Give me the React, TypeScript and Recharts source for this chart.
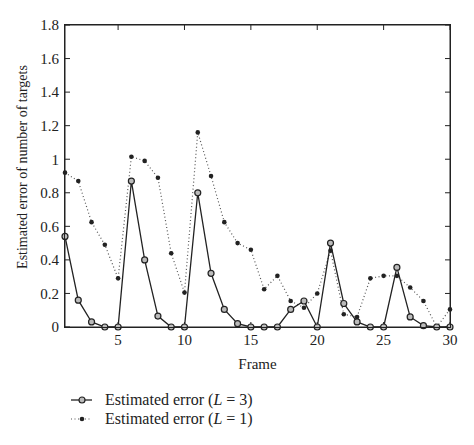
import React from 'react';
import { LineChart, Line, XAxis, YAxis, Legend } from 'recharts';

const frames = [1, 2, 3, 4, 5, 6, 7, 8, 9, 10, 11, 12, 13, 14, 15, 16, 17, 18, 19, 20, 21, 22, 23, 24, 25, 26, 27, 28, 29, 30];
const errorL3 = [0.54, 0.16, 0.03, 0, 0, 0.87, 0.4, 0.065, 0, 0, 0.8, 0.32, 0.105, 0.02, 0, 0, 0, 0.105, 0.155, 0, 0.5, 0.14, 0.03, 0, 0, 0.355, 0.06, 0.008, 0, 0];
const errorL1 = [0.92, 0.87, 0.625, 0.49, 0.29, 1.015, 0.99, 0.89, 0.44, 0.205, 1.16, 0.9, 0.625, 0.5, 0.46, 0.225, 0.305, 0.155, 0.115, 0.2, 0.455, 0.076, 0.06, 0.29, 0.305, 0.305, 0.235, 0.155, 0, 0.105];
const xTicks = [5, 10, 15, 20, 25, 30];
const yTicks = [0, 0.2, 0.4, 0.6, 0.8, 1, 1.2, 1.4, 1.6, 1.8];

const data = frames.map((f, i) => ({ frame: f, l3: errorL3[i], l1: errorL1[i] }));

const FONT = '"Liberation Serif", "Times New Roman", serif';
const INK = '#222';
const blank = () => '';

const YLabel = ({ viewBox }: any) => {
  const cx = viewBox.x + 27;
  const cy = viewBox.y + viewBox.height / 2 - 9;
  return (
    <text x={cx} y={cy} transform={`rotate(-90 ${cx} ${cy})`} textAnchor="middle" fill={INK} fontFamily={FONT} fontSize={14}>
      Estimated error of number of targets
    </text>
  );
};

const LegendRows = () => (
  <div style={{ fontFamily: FONT, fontSize: 16, color: INK, lineHeight: '19px' }}>
    <div style={{ display: 'flex', alignItems: 'center', height: 19 }}>
      <svg width={45} height={19}>
        <line x1={11} y1={10} x2={32} y2={10} stroke={INK} strokeWidth={1.3} />
        <circle cx={22} cy={10} r={3} fill="#bbb" stroke={INK} strokeWidth={1.2} />
      </svg>
      <span>Estimated error (<i>L</i> = 3)</span>
    </div>
    <div style={{ display: 'flex', alignItems: 'center', height: 19 }}>
      <svg width={45} height={19}>
        <line x1={11} y1={10} x2={32} y2={10} stroke="#555" strokeWidth={1.2} strokeDasharray="1 2.5" />
        <circle cx={22} cy={10} r={2.3} fill={INK} />
      </svg>
      <span>Estimated error (<i>L</i> = 1)</span>
    </div>
  </div>
);

export default function App() {
  return (
    <div style={{ position: 'absolute', left: 0, top: 0, width: 474, height: 445, background: '#fff' }}>
      <LineChart width={474} height={445} data={data} margin={{ top: 25, right: 24, left: 0, bottom: 68 }}>
        <XAxis
          dataKey="frame"
          type="number"
          domain={[1, 30]}
          ticks={xTicks}
          height={50}
          stroke={INK}
          tickSize={-5}
          tickMargin={12}
          tick={{ fill: INK, fontFamily: FONT, fontSize: 15 }}
          label={{ value: 'Frame', position: 'insideBottom', offset: 8, fill: INK, fontFamily: FONT, fontSize: 15 }}
        />
        <XAxis
          xAxisId="top"
          orientation="top"
          mirror
          dataKey="frame"
          type="number"
          domain={[1, 30]}
          ticks={xTicks}
          stroke={INK}
          tickSize={5}
          tickFormatter={blank}
        />
        <YAxis
          type="number"
          domain={[0, 1.8]}
          ticks={yTicks}
          width={65}
          stroke={INK}
          tickSize={-5}
          tickMargin={11}
          tick={{ fill: INK, fontFamily: FONT, fontSize: 15 }}
          label={<YLabel />}
        />
        <YAxis
          yAxisId="right"
          orientation="right"
          mirror
          type="number"
          domain={[0, 1.8]}
          ticks={yTicks}
          stroke={INK}
          tickSize={5}
          tickFormatter={blank}
        />
        <Legend
          layout="horizontal"
          verticalAlign="middle"
          align="center"
          width={320}
          content={() => <LegendRows />}
          wrapperStyle={{ left: 60, top: 390 }}
        />
        <Line
          xAxisId="top"
          yAxisId="right"
          dataKey="l1"
          stroke="#555"
          strokeWidth={1.2}
          strokeDasharray="1 2.5"
          dot={{ r: 2.3, fill: INK, stroke: 'none' }}
          isAnimationActive={false}
        />
        <Line
          dataKey="l3"
          stroke={INK}
          strokeWidth={1.3}
          dot={{ r: 3, fill: '#bbb', stroke: INK, strokeWidth: 1.2 }}
          isAnimationActive={false}
        />
      </LineChart>
      {/* plot frame */}
      <div
        style={{
          position: 'absolute',
          left: 64,
          top: 24,
          width: 387,
          height: 304,
          boxSizing: 'border-box',
          border: `1px solid ${INK}`,
          pointerEvents: 'none',
        }}
      />
    </div>
  );
}
